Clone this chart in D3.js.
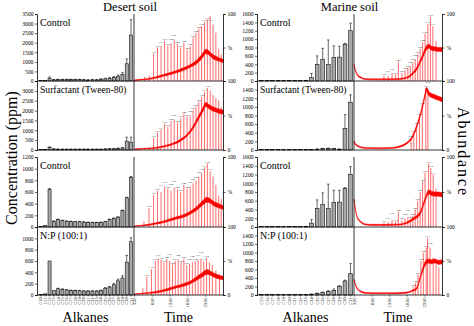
<!DOCTYPE html>
<html><head><meta charset="utf-8">
<script src="https://cdn.jsdelivr.net/npm/d3@7"></script>
<style>
body{margin:0;background:#fff}
svg{display:block}
text{font-family:"Liberation Serif","Times New Roman",serif;fill:#000}
</style></head>
<body><svg id="c" width="474" height="326"></svg>
<script>
// ---------------- DATA ----------------
const desertAlkanes = ["C10","C11","C12","C13","C14","C15","C16","C17","C18","C19","C20","C21","C22","C23","C24","C25","C26","C27","C28","C29","C30","C31"];
const marineAlkanes = ["C15","C16","C17","C18","C19","C20","C21","C22","C23","C24","C25","C26","C27","C28","C29","C30","C31"];
const timeTicks = [3, 8, 13, 18, 23];
const timeLabels = ["3.00", "8.00", "13.00", "18.00", "23.00"];
const rowLabels = ["Control", "Surfactant (Tween-80)", "Control", "N:P (100:1)"];

const desertBars1 = [10,10,150,60,70,70,70,70,70,70,60,50,60,60,90,110,140,180,250,350,900,2400];
const desertErr1  = [0,0,60,20,20,20,20,20,20,20,20,20,20,20,30,30,40,50,60,100,250,800];
const desertBars2 = [5,5,120,50,40,40,40,40,40,40,40,40,40,40,40,50,60,60,80,100,450,400];
const desertErr2  = [0,0,40,10,10,10,10,10,10,10,10,10,10,10,10,10,10,10,20,30,200,250];
const desertBars3 = [10,30,640,100,130,110,100,95,90,90,85,80,75,75,80,90,130,150,170,280,500,850];
const desertErr3  = [0,0,20,5,5,5,5,5,5,5,5,5,5,5,5,5,5,5,5,10,10,15];
const desertBars4 = [5,20,600,80,110,100,90,80,80,75,70,70,70,70,80,120,140,180,250,300,580,940];
const desertErr4  = [0,0,0,0,10,10,5,5,5,5,5,5,5,5,5,10,10,20,30,40,120,70];

const marineBars1 = [0,0,0,0,0,0,0,0,10,80,400,520,400,560,570,880,1200];
const marineErr1  = [0,0,0,0,0,0,0,0,5,100,200,260,580,280,260,20,180];
const marineBars2 = [0,0,0,0,0,0,0,0,0,0,20,30,40,30,20,500,1100];
const marineErr2  = [0,0,0,0,0,0,0,0,0,0,5,5,5,5,5,320,180];
const marineBars3 = [0,0,0,0,0,0,0,0,10,90,420,520,420,560,570,880,1200];
const marineErr3  = [0,0,0,0,0,0,0,0,5,80,200,260,560,280,270,20,180];
const marineBars4 = [0,0,0,0,0,0,0,0,10,20,40,60,80,110,200,330,500];
const marineErr4  = [0,0,0,0,0,0,0,0,0,5,5,10,20,30,20,20,240];

const desertTicks1 = [0,500,1000,1500,2000,2500,3000,3500];
const desertTicks2 = [0,500,1000,1500,2000,2500,3000];
const desertTicks3 = [0,200,400,600,800,1000,1200];
const desertTicks4 = [0,200,400,600,800,1000];
const marineTicks1 = [0,200,400,600,800,1000,1200,1400,1600];
const marineTicks2 = [0,200,400,600,800,1000,1200,1400];
const desertMax = [3500, 3500, 1200, 1200];
const marineMax = [1600, 1600, 1600, 1600];

// chromatogram traces: [time, abundance %, noise half-width %]
const desertTrace1 = [[3,1,.5],[5,2,.5],[7,3,.8],[9,5,1],[11,8,1.2],[13,11,1.5],[15,14,1.5],[17,18,2],[19,23,2],[20.5,28,2.5],[22,36,3],[23.2,44,3.5],[24,42,3],[25,37,3],[26,34,3],[27,32,2.5],[28,30,2.5]];
const desertTrace2 = [[3,1,.5],[6,2,.5],[9,3,.8],[12,6,1],[14,9,1],[16,14,1.5],[18,22,1.5],[19.5,32,2],[21,46,2.5],[22.3,58,3],[23.2,66,3],[24,63,3],[25,60,3],[26,58,3],[27,56,3],[28,55,3]];
const desertTrace3 = [[3,1,.5],[5,2,.5],[7,3,.8],[9,5,1],[11,7,1.2],[13,10,1.5],[15,13,1.5],[17,16,2],[19,21,2],[20.5,26,2.5],[22,33,3],[23.5,39,3.5],[24.5,37,3],[25.5,33,3],[26.5,31,3],[28,28,2.5]];
const desertTrace4 = [[3,1,.5],[5,2,.5],[7,3,.8],[9,4,1],[11,6,1.2],[13,9,1.5],[15,12,1.5],[17,15,2],[19,19,2],[20.5,24,2.5],[22,29,3],[23.5,34,3.5],[24.5,32,3],[25.5,29,3],[26.5,27,3],[28,25,2.5]];
const marineTrace1 = [[3,24,1],[3.5,14,1],[4,9,1],[5,5,.8],[6,3,.8],[8,2.5,.8],[12,2.5,.8],[16,3,.8],[18,5,1],[19.8,12,1.5],[21,20,2],[21.8,29,2],[22.6,38,2.5],[23.2,46,3],[24.2,52,3],[25,49,3],[26,48,3],[27,47,3],[28,47,3]];
const marineTrace2 = [[3,12,1],[3.5,8,1],[4,6,.8],[5,4,.8],[6,3,.8],[10,2.5,.8],[14,3,.8],[16,5,1],[18,10,1.2],[19.5,18,1.5],[20.5,30,2],[21.5,45,2],[22.5,64,2.5],[23.2,80,3],[23.6,88,3],[24.2,82,3],[25,79,3],[26,77,3],[27,75,3],[28,73,3]];
const marineTrace3 = [[3,39,1],[3.5,22,1],[4,13,1],[5,7,.8],[6,4,.8],[8,3,.8],[12,3,.8],[16,3.5,.8],[18,6,1],[20,12,1.5],[21.8,20,2],[23.2,39,2.5],[24.2,50,3],[25,48,3],[26,47,3],[27,47,3],[28,46,3]];
const marineTrace4 = [[3,22,1],[3.5,14,1],[4,9,1],[5,5,.8],[6.5,3,.8],[10,2.5,.8],[14,2.5,.8],[18,3.5,.8],[19.5,6,1],[20.8,10,1.5],[22,29,2],[23.3,47,3],[24,50,3],[25,49,3],[26,50,3],[27,48,3],[28,49,3]];

// peaks: [time, height %, label]
const desertPeaks1 = [[4.5,3,""],[6,6,""],[7.3,8,""],[8.5,41,"C15"],[9.6,50,"C16"],[10.6,52,"C17"],[11.6,60,"C18"],[12.5,53,"C19"],[13.4,56,"C20"],[14.3,62,"C21"],[15.2,55,"C22"],[16.1,50,"C23"],[17.0,57,"C24"],[17.9,47,"C25"],[18.8,52,"C26"],[19.6,65,"C27"],[20.4,72,"C28"],[21.2,78,"C29"],[22.0,82,"C30"],[22.8,88,"C31"],[23.6,92,"C32"],[24.4,97,"C33"],[25.2,84,""],[26.0,72,""],[26.8,48,""],[27.5,40,""]];
const desertPeaks2 = [[4.5,2,""],[6,3,""],[7.3,4,""],[8.5,18,"C15"],[9.6,25,"C16"],[10.6,30,"C17"],[11.6,38,"C18"],[12.5,34,"C19"],[13.4,42,"C20"],[14.3,44,"C21"],[15.2,40,"C22"],[16.1,46,"C23"],[17.0,53,"C24"],[17.9,48,"C25"],[18.8,50,"C26"],[19.6,58,"C27"],[20.4,63,"C28"],[21.2,70,"C29"],[22.0,77,"C30"],[22.8,84,"C31"],[23.6,90,"C32"],[24.4,86,""],[25.2,80,""],[26.0,75,""],[26.8,72,""],[27.5,62,""]];
const desertPeaks3 = [[5.8,8,""],[7.2,27,"C14"],[8.5,46,"C15"],[9.6,52,"C16"],[10.6,50,"C17"],[11.6,58,"C18"],[12.5,55,"C19"],[13.4,52,"C20"],[14.3,56,"C21"],[15.2,54,"C22"],[16.1,50,"C23"],[17.0,60,"C24"],[17.9,55,"C25"],[18.8,58,"C26"],[19.6,62,"C27"],[20.4,66,"C28"],[21.2,72,"C29"],[22.0,77,"C30"],[22.8,85,"C31"],[23.6,91,"C32"],[24.4,80,"C33"],[25.2,72,""],[26.0,60,""],[26.8,45,""],[27.5,40,""]];
const desertPeaks4 = [[5.5,10,""],[6.6,27,"C14"],[7.9,38,"C15"],[9.0,50,"C16"],[9.8,53,"C17"],[10.6,52,"C18"],[11.4,48,"C19"],[12.2,53,"C20"],[13.0,50,"C21"],[13.8,45,"C22"],[14.6,50,"C23"],[15.4,52,"C24"],[16.2,48,"C25"],[17.0,53,"C26"],[17.8,44,"C27"],[18.6,46,"C28"],[19.4,48,"C29"],[20.2,50,"C30"],[21.0,52,"C31"],[21.8,53,"C32"],[22.6,50,"C33"],[23.4,55,"C34"],[24.2,48,""],[25.0,44,""],[26.0,36,""],[27.0,30,""]];
const marinePeaks1 = [[11.5,8,"C16"],[12.7,8,"C17"],[13.8,12,"C18"],[14.8,10,"C19"],[15.6,29,"C20"],[16.6,12,"C21"],[17.5,16,"C22"],[18.3,20,"C23"],[19.0,22,"C24"],[19.7,27,"C25"],[20.4,32,"C26"],[21.1,40,"C27"],[21.8,48,"C28"],[22.5,58,"C29"],[23.2,71,"C30"],[24.0,85,"C31"],[24.7,96,"C32"],[25.4,82,"C33"],[26.3,60,""]];
const marinePeaks2 = [[19.2,18,"C26"],[20.0,25,"C27"],[20.8,36,"C28"],[21.6,50,"C29"],[22.4,66,"C30"],[23.4,90,"C31"],[24.0,88,"C32"]];
const marinePeaks3 = [[11.5,6,"C16"],[12.7,7,"C17"],[13.8,10,"C18"],[14.8,8,"C19"],[15.6,22,"C20"],[16.6,10,"C21"],[17.5,12,"C22"],[18.3,14,"C23"],[19.0,12,"C24"],[19.7,16,"C25"],[20.4,25,"C26"],[21.1,38,"C27"],[21.8,50,"C28"],[22.5,65,"C29"],[23.2,78,"C30"],[24.2,91,"C31"],[24.8,84,"C32"],[25.5,75,"C33"],[26.3,55,""]];
const marinePeaks4 = [[19.8,12,"C25"],[20.5,18,"C26"],[21.2,30,"C27"],[22.0,50,"C28"],[22.7,62,"C29"],[23.5,70,"C30"],[23.9,84,"C31"],[24.6,70,"C32"],[25.5,55,""],[26.3,45,""],[27.1,40,""]];

// ---------------- LAYOUT ----------------
const svg = d3.select("#c");
const rows = [[14,81],[81,150],[157,227],[227,295]];
const groups = [[14,150],[157,295]];
const cols = [
  {x0:37, xm:134, x1:223, title:"Desert soil", cats:desertAlkanes, pad:0.28,
   bars:[desertBars1,desertBars2,desertBars3,desertBars4], errs:[desertErr1,desertErr2,desertErr3,desertErr4],
   max:desertMax, ticks:[desertTicks1,desertTicks2,desertTicks3,desertTicks4],
   traces:[desertTrace1,desertTrace2,desertTrace3,desertTrace4], peaks:[desertPeaks1,desertPeaks2,desertPeaks3,desertPeaks4]},
  {x0:257, xm:354, x1:442, title:"Marine soil", cats:marineAlkanes, pad:0.32,
   bars:[marineBars1,marineBars2,marineBars3,marineBars4], errs:[marineErr1,marineErr2,marineErr3,marineErr4],
   max:marineMax, ticks:[marineTicks1,marineTicks2,marineTicks1,marineTicks2],
   traces:[marineTrace1,marineTrace2,marineTrace3,marineTrace4], peaks:[marinePeaks1,marinePeaks2,marinePeaks3,marinePeaks4]}
];

// simple greedy placement so the tiny peak labels do not sit on each other
function placeLabels(items, top) {
  const placed = [];
  const hit = (x, y) => placed.some(p => Math.abs(p.x - x) < 4.6 && Math.abs(p.y - y) < 2.5);
  items.forEach(it => {
    let y = it.y;
    while (hit(it.x, y) && y > top) y -= 2.5;
    if (y < top) { y = top; while (hit(it.x, y)) y += 2.5; }
    placed.push({x: it.x, y, text: it.text});
  });
  return placed;
}

cols.forEach(c => {
  const xb = d3.scaleBand().domain(c.cats).range([c.x0+2, c.xm-1]).paddingInner(c.pad).paddingOuter(0.1);
  const xt = d3.scaleLinear().domain([3, 28]).range([c.xm, c.x1]);
  const yp = rows.map(r => d3.scaleLinear().domain([0,100]).range([r[1], r[0]]));

  svg.append("text").attr("x", (c.x0+c.x1)/2).attr("y", 11).attr("text-anchor","middle")
     .style("font-size","12.5px").text(c.title);

  rows.forEach((r, i) => {
    const y = d3.scaleLinear().domain([0, c.max[i]]).range([r[1], r[0]]);
    const g = svg.append("g");
    const vals = c.bars[i], errs = c.errs[i];
    g.selectAll("rect").data(c.cats).join("rect")
      .attr("x", d => xb(d)).attr("width", xb.bandwidth())
      .attr("y", (d,k) => Math.min(y(vals[k]), r[1]-0.6))
      .attr("height", (d,k) => Math.max(r[1]-y(vals[k]), 0.6))
      .attr("fill", "#a8a8a8").attr("stroke", "#000").attr("stroke-width", 0.55);
    c.cats.forEach((d,k) => {
      if (!errs[k]) return;
      const cx = xb(d) + xb.bandwidth()/2;
      g.append("line").attr("x1",cx).attr("x2",cx).attr("y1",y(vals[k])).attr("y2",y(vals[k]+errs[k]))
        .attr("stroke","#000").attr("stroke-width",0.6);
      g.append("line").attr("x1",cx-1.2).attr("x2",cx+1.2).attr("y1",y(vals[k]+errs[k])).attr("y2",y(vals[k]+errs[k]))
        .attr("stroke","#000").attr("stroke-width",0.6);
    });
    const ax = svg.append("g").attr("transform",`translate(${c.x0},0)`)
      .call(d3.axisLeft(y).tickValues(c.ticks[i]).tickSize(2).tickPadding(1.5).tickFormat(d3.format("d")));
    ax.select(".domain").attr("stroke-width",0.8);
    ax.selectAll("text").style("font-size","5.6px").style("font-family","Liberation Serif");
    ax.selectAll("line").attr("stroke-width",0.6);

    // chromatogram
    const yc = yp[i];
    const pk = c.peaks[i];
    g.selectAll("line.pk").data(pk).join("line").attr("class","pk")
      .attr("x1", d => xt(d[0])).attr("x2", d => xt(d[0]))
      .attr("y1", r[1]).attr("y2", d => yc(d[1]))
      .attr("stroke", "#ff2a2a").attr("stroke-width", 0.7);
    const area = d3.area().curve(d3.curveMonotoneX)
      .x(d => xt(d[0])).y0(d => yc(Math.max(d[1]-d[2],0))).y1(d => yc(d[1]+d[2]));
    g.append("path").datum(c.traces[i]).attr("d", area).attr("fill","#ff0000").attr("stroke","#ff0000").attr("stroke-width",0.5);
    const lab = placeLabels(pk.filter(d => d[2]).map(d => ({x: xt(d[0]), y: yc(d[1]) - 0.8, text: d[2]})), r[0] + 2.4);
    g.selectAll("text.pl").data(lab).join("text").attr("class","pl")
      .attr("x", d => d.x).attr("y", d => d.y).attr("text-anchor","middle")
      .style("font-size","2.6px").text(d => d.text);

    const ra = svg.append("g").attr("transform",`translate(${c.x1},0)`)
      .call(d3.axisRight(yc).tickValues(i % 2 === 0 ? [50,100] : [0,50,100]).tickSize(2.5).tickPadding(2)
        .tickFormat(d => d === 50 ? "%" : d3.format("d")(d)));
    ra.select(".domain").attr("stroke-width",0.8);
    ra.selectAll("text").style("font-size","5.6px").style("font-family","Liberation Serif");
    ra.selectAll("line").attr("stroke-width",0.6);

    svg.append("line").attr("x1",c.x0).attr("x2",c.x1).attr("y1",r[1]).attr("y2",r[1]).attr("stroke","#000").attr("stroke-width",0.8);

    svg.append("text").attr("x", c.x0+3).attr("y", r[0] + (i===1 ? 12 : 11.5))
      .style("font-size", i===1 ? "9.6px" : "10px").text(rowLabels[i]);
  });

  groups.forEach(gr => {
    svg.append("line").attr("x1",c.xm).attr("x2",c.xm).attr("y1",gr[0]).attr("y2",gr[1]).attr("stroke","#000").attr("stroke-width",0.8);
  });

  const bx = svg.append("g").attr("transform",`translate(0,${rows[3][1]})`)
    .call(d3.axisBottom(xb).tickSize(1.5).tickPadding(1));
  bx.select(".domain").remove();
  bx.selectAll("line").attr("stroke-width",0.5);
  bx.selectAll("text").style("font-size","4.2px").attr("text-anchor","end")
    .attr("transform","rotate(-90)").attr("x",-2.5).attr("y",0).attr("dy","0.35em");
  const tx = svg.append("g").attr("transform",`translate(0,${rows[3][1]})`)
    .call(d3.axisBottom(xt).tickValues(timeTicks).tickSize(1.5).tickFormat((d,k) => timeLabels[k]));
  tx.select(".domain").remove();
  tx.selectAll("line").attr("stroke-width",0.5);
  tx.selectAll("text").style("font-size","4.4px").attr("text-anchor","end")
    .attr("transform","rotate(-90)").attr("x",-2.5).attr("y",0).attr("dy","0.35em");

  svg.append("text").attr("x",(c.x0+c.xm)/2).attr("y",322).attr("text-anchor","middle").style("font-size","14px").text("Alkanes");
  svg.append("text").attr("x",(c.xm+c.x1)/2).attr("y",322).attr("text-anchor","middle").style("font-size","14px").text("Time");
});

svg.append("text").attr("transform","translate(17,158) rotate(-90)").attr("text-anchor","middle")
  .style("font-size","16px").text("Concentration (ppm)");
svg.append("text").attr("transform","translate(458,151) rotate(90)").attr("text-anchor","middle")
  .style("font-size","16px").attr("textLength",88).attr("lengthAdjust","spacing").text("Abundance");
</script></body></html>
